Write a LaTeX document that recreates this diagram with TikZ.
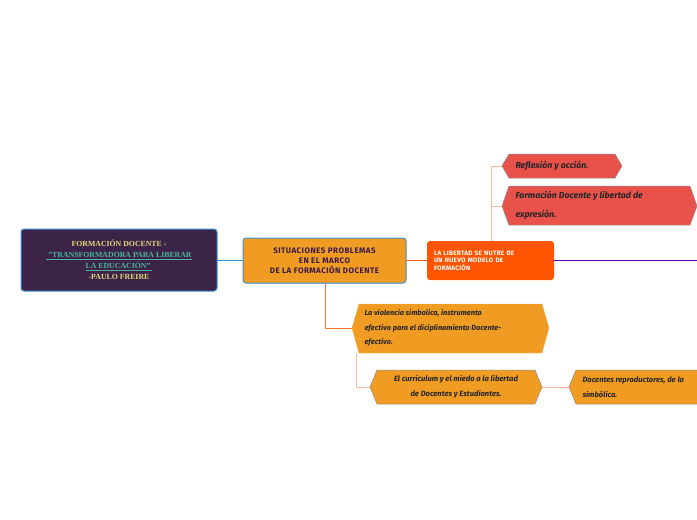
\documentclass[tikz,border=0pt]{standalone}
\usepackage{fontspec}
\setsansfont{Fira Sans}
\setmainfont{Liberation Serif}
\begin{document}
\begin{tikzpicture}[x=1pt,y=-1pt]
\definecolor{rootbg}{HTML}{3B2448}
\definecolor{bluebd}{HTML}{3B8FD0}
\definecolor{orng}{HTML}{F09C22}
\definecolor{red1}{HTML}{E9524A}
\definecolor{org2}{HTML}{FF5500}
\definecolor{salmon}{HTML}{FBB79C}
\definecolor{ylw}{HTML}{E8D87A}
\definecolor{teal1}{HTML}{4DB39A}
\definecolor{dpur}{HTML}{3B1A4A}
\tikzset{
 hand/.style={font=\sffamily\itshape\bfseries\fontsize{8.8}{19}\selectfont, text=black!85, align=left, anchor=west},
 handsm/.style={hand, font=\sffamily\itshape\bfseries\fontsize{7.6}{14.5}\selectfont},
 hexa/.style={draw=black!45, line width=0.5pt},
}
\useasboundingbox (0,0) rectangle (697,520);
\clip (0,0) rectangle (697,520);
\coordinate (rootR) at (217,260);
\coordinate (sitL) at (243,260);
\coordinate (sitR) at (406,260);
\coordinate (libL) at (427,260);
\coordinate (libR) at (554,260);
\coordinate (edge) at (697,260);
\draw[bluebd, line width=0.8pt] (rootR) -- (sitL);
\draw[org2, line width=0.8pt] (sitR) -- (libL);
\draw[violet!80!blue, line width=0.8pt] (libR) -- (edge);
\coordinate (refL) at (502,166);
\coordinate (forL) at (502,206);
\coordinate (libT) at (491,241);
\draw[salmon, line width=0.8pt] (libT) |- (refL);
\draw[salmon, line width=0.8pt] (491,206) -- (forL);
\coordinate (sitB) at (325,283);
\coordinate (vioL) at (352,328);
\draw[org2!70!salmon, line width=0.8pt] (sitB) |- (vioL);
\coordinate (vioB) at (356,353);
\coordinate (curL) at (370,387);
\coordinate (curR) at (542,387);
\coordinate (docL) at (569,387);
\draw[salmon, line width=0.8pt] (vioB) |- (curL);
\draw[salmon, line width=0.8pt] (curR) -- (docL);
\node[draw=bluebd, line width=1pt, fill=rootbg, rounded corners=3pt, minimum width=196pt, minimum height=62pt, inner sep=0pt,
 font=\rmfamily\bfseries\fontsize{7.8}{11}\selectfont, align=center, text=ylw] (root) at (119,260)
 {FORMACIÓN DOCENTE -\\ {\color{teal1}\underline{~"TRANSFORMADORA PARA LIBERAR}}\\ {\color{teal1}\underline{LA EDUCACIÓN"~}}\\ -PAULO FREIRE};
\node[draw=bluebd, line width=1pt, fill=orng, rounded corners=3pt, minimum width=163pt, minimum height=45pt, inner sep=0pt,
 font=\sffamily\bfseries\fontsize{8}{10}\selectfont, align=center, text=dpur] (sit) at (324.5,260.5)
 {\addfontfeatures{LetterSpace=6}SITUACIONES PROBLEMAS\\\addfontfeatures{LetterSpace=6}EN EL MARCO\\\addfontfeatures{LetterSpace=6}DE LA FORMACIÓN DOCENTE};
\node[fill=org2, rounded corners=3pt, minimum width=127pt, minimum height=39pt, inner sep=0pt,
 font=\sffamily\bfseries\fontsize{6.4}{7.6}\selectfont, align=left, text=white, text width=113pt] (lib) at (490.5,260.5)
 {\addfontfeatures{LetterSpace=4}LA LIBERTAD SE NUTRE DE\\\addfontfeatures{LetterSpace=4}UN NUEVO MODELO DE\\\addfontfeatures{LetterSpace=4}FORMACIÓN};
\draw[hexa, fill=red1] (502,166) -- (509,154) -- (615,154) -- (622,166) -- (615,178) -- (509,178) -- cycle;
\node[hand] (ref) at (512,166) {Reflexión y acción.};
\draw[hexa, fill=red1] (502,206) -- (509,186) -- (690,186) -- (697,206) -- (690,225) -- (509,225) -- cycle;
\node[hand] (for) at (512,205) {Formación Docente y libertad de\\expresión.};
\draw[draw=orng!80!white, fill=orng] (352,328) -- (359,304) -- (542,304) -- (549,328) -- (542,353) -- (359,353) -- cycle;
\node[handsm, font=\sffamily\itshape\bfseries\fontsize{7.4}{14.5}\selectfont] (vio) at (361,328) {La violencia simbolica, instrumento\\efectivo para el diciplinamiento Docente-\\efectivo.};
\draw[hexa, fill=orng] (370,387) -- (377,370) -- (535,370) -- (542,387) -- (535,404) -- (377,404) -- cycle;
\node[handsm, align=center, anchor=center] (cur) at (456,387) {El curriculum y el miedo a la libertad\\de Docentes y Estudiantes.};
\draw[hexa, fill=orng] (569,387) -- (576,370) -- (720,370) -- (720,404) -- (576,404) -- cycle;
\node[handsm] (doc) at (579,387) {Docentes reproductores, de la\\simbólica.};
\end{tikzpicture}
\end{document}
